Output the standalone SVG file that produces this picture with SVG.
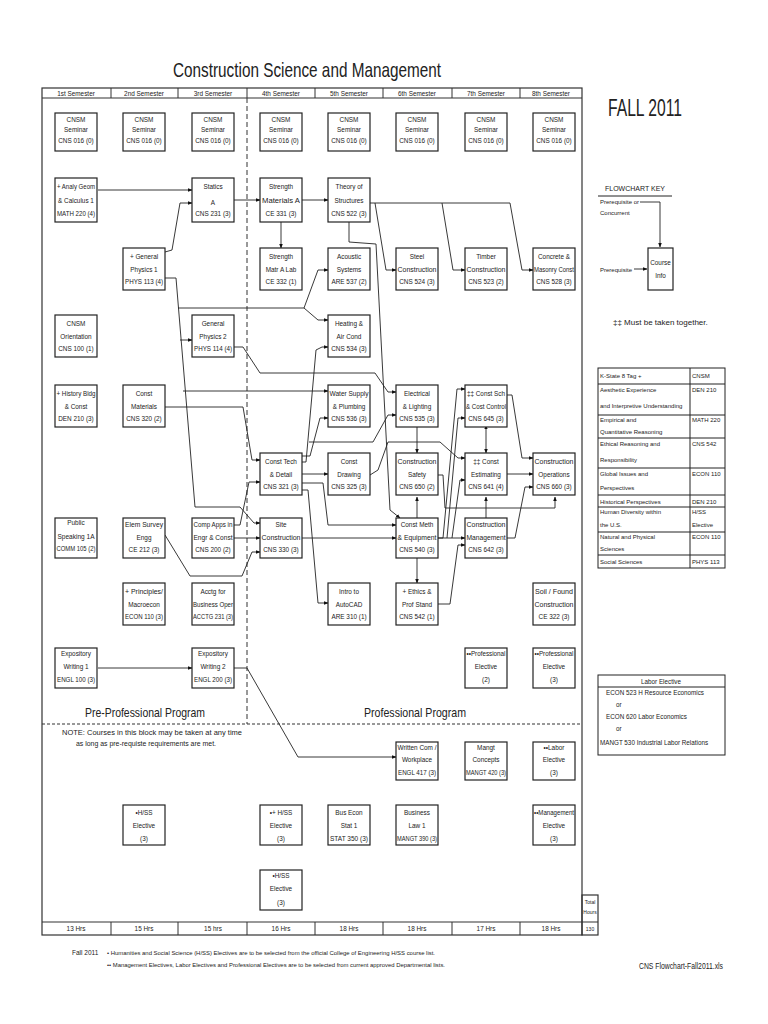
<svg xmlns="http://www.w3.org/2000/svg" width="768" height="1024" viewBox="0 0 768 1024">
<defs>
<marker id="ah" viewBox="0 0 10 10" refX="9" refY="5" markerWidth="5" markerHeight="5" orient="auto"><path d="M0,1 L10,5 L0,9 z" fill="#111"/></marker>
<marker id="as" viewBox="0 0 10 10" refX="1" refY="5" markerWidth="5" markerHeight="5" orient="auto-start-reverse"><path d="M0,1 L10,5 L0,9 z" fill="#111"/></marker>
</defs>
<style>
text{font-family:"Liberation Sans",Arial,sans-serif;fill:#222}
.b{fill:#fff;stroke:#222;stroke-width:1.2}
.t{font-size:6.4px;text-anchor:middle}
.w{font-size:6.4px;text-anchor:middle}
.h{font-size:6.4px;text-anchor:middle}
.s{font-size:6px}
.c{fill:none;stroke:#222;stroke-width:0.9;marker-end:url(#ah)}
.l{fill:none;stroke:#222;stroke-width:0.9}
.f{fill:none;stroke:#333;stroke-width:1.2}
</style>
<rect width="768" height="1024" fill="#fff"/>
<text x="307" y="77" font-size="21" text-anchor="middle" textLength="268" lengthAdjust="spacingAndGlyphs">Construction Science and Management</text>
<text x="608" y="116" font-size="23" textLength="74" lengthAdjust="spacingAndGlyphs">FALL 2011</text>

<!-- frame -->
<rect class="f" x="42" y="88" width="540" height="847"/>
<line class="f" x1="42" y1="98" x2="582" y2="98"/>
<line class="f" x1="42" y1="922" x2="598" y2="922"/>
<rect class="f" x="582" y="895" width="16" height="40"/>
<g stroke="#333" stroke-width="1">
<line x1="111" y1="88" x2="111" y2="98"/><line x1="178" y1="88" x2="178" y2="98"/><line x1="247" y1="88" x2="247" y2="98"/><line x1="315" y1="88" x2="315" y2="98"/><line x1="383" y1="88" x2="383" y2="98"/><line x1="452" y1="88" x2="452" y2="98"/><line x1="520" y1="88" x2="520" y2="98"/>
<line x1="111" y1="922" x2="111" y2="935"/><line x1="178" y1="922" x2="178" y2="935"/><line x1="247" y1="922" x2="247" y2="935"/><line x1="315" y1="922" x2="315" y2="935"/><line x1="383" y1="922" x2="383" y2="935"/><line x1="452" y1="922" x2="452" y2="935"/><line x1="520" y1="922" x2="520" y2="935"/>
</g>
<line x1="247" y1="98" x2="247" y2="724" stroke="#333" stroke-width="1" stroke-dasharray="5,3"/>
<line x1="42" y1="724" x2="582" y2="724" stroke="#333" stroke-width="1.2" stroke-dasharray="3,2"/>
<g class="h">
<text x="76" y="96">1st Semester</text><text x="144" y="96">2nd Semester</text><text x="213" y="96">3rd Semester</text><text x="281" y="96">4th Semester</text><text x="349" y="96">5th Semester</text><text x="417" y="96">6th Semester</text><text x="486" y="96">7th Semester</text><text x="551" y="96">8th Semester</text>
<text x="76" y="931">13 Hrs</text><text x="144" y="931">15 Hrs</text><text x="213" y="931">15 hrs</text><text x="281" y="931">16 Hrs</text><text x="349" y="931">18 Hrs</text><text x="417" y="931">18 Hrs</text><text x="486" y="931">17 Hrs</text><text x="551" y="931">18 Hrs</text>
<text x="590" y="904" font-size="5">Total</text><text x="590" y="914" font-size="5">Hours</text><text x="590" y="931" font-size="5">130</text>
</g>
<text x="145" y="717" font-size="13" text-anchor="middle" textLength="120" lengthAdjust="spacingAndGlyphs">Pre-Professional Program</text>
<text x="415" y="717" font-size="13" text-anchor="middle" textLength="102" lengthAdjust="spacingAndGlyphs">Professional Program</text>
<text x="62" y="735" font-size="7" textLength="180" lengthAdjust="spacingAndGlyphs">NOTE:  Courses in this block may be taken at any time</text>
<text x="76" y="746" font-size="7" textLength="140" lengthAdjust="spacingAndGlyphs">as long as pre-requiste requirements are met.</text>

<!-- connectors -->
<g id="connectors">
<path class="c" d="M98,190 H192"/>
<path class="c" d="M165,252 L172,250 L180,203 H192"/>
<path class="c" d="M233,200 H260"/>
<path class="c" d="M281,220 V248"/>
<path class="c" d="M302,200 H328"/>
<path class="c" d="M370,203 H510 L522,270 H533"/>
<path class="c" d="M375,203 L386,270 H396"/>
<path class="c" d="M442,203 L453,270 H465"/>
<path class="c" d="M349,220 V242 L376,244 L390,510 L400,518"/>
<path class="l" d="M165,278 H176 L195,507"/>
<path class="c" d="M178,308 H304 L318,270 H328"/>
<path class="c" d="M304,308 L318,320 H328"/>
<path class="c" d="M180,340 H192"/>
<path class="c" d="M183,391 H328"/>
<path class="c" d="M195,507 H240 L254,523 H260"/>
<path class="c" d="M233,347 H243 L260,373 H375 L388,392 H396"/>
<path class="c" d="M302,462 H306 L316,350 L322,347 H328"/>
<path class="c" d="M309,442 H373 L388,415 H396"/>
<path class="c" d="M302,456 H310 L320,418 H328"/>
<path class="c" d="M165,407 H243 L252,460 H260"/>
<path class="c" d="M233,525 H240 L249,482 H260"/>
<path class="c" d="M233,538 H260"/>
<path class="c" d="M165,535 L190,576 H242 L252,552 H260"/>
<path class="c" d="M302,474 H328"/>
<path class="c" d="M302,483 H323 L328,525 H396"/>
<path class="c" d="M302,538 H396"/>
<path class="c" d="M302,490 H308 L318,603 H328"/>
<path class="c" d="M417,427 V453"/>
<path class="c" d="M370,475 L378,470 L388,442 H440 L458,458 H465"/>
<path class="c" d="M438,538 H443 L457,389 H465"/>
<path class="c" d="M447,538 L458,418 H465"/>
<path class="c" d="M452,538 L460,480 H465"/>
<path class="c" d="M438,538 H465"/>
<path class="c" style="marker-start:url(#as)" d="M486,429 V453"/>
<path class="c" d="M486,518 V497"/>
<path class="c" d="M417,518 V497"/>
<path class="c" d="M417,558 V583"/>
<path class="c" d="M438,604 H450 L458,545 H465"/>
<path class="c" d="M438,475 H443 L445,508 H555 V497"/>
<path class="c" d="M506,395 H512 L522,458 H533"/>
<path class="c" d="M506,474 H533"/>
<path class="c" d="M506,538 H515 L525,487 H533"/>
<path class="c" d="M98,668 H192"/>
<path class="c" d="M233,668 H247 L298,757 H396"/>
</g>

<!-- nodes -->
<g id="n-sem1"><rect class="b" x="55" y="113" width="42" height="38"/><text class="t" x="76" y="122">CNSM</text><text class="t" x="76" y="132">Seminar</text><text class="t" x="76" y="143">CNS 016 (0)</text></g>
<g id="n-sem2"><rect class="b" x="123" y="113" width="42" height="38"/><text class="t" x="144" y="122">CNSM</text><text class="t" x="144" y="132">Seminar</text><text class="t" x="144" y="143">CNS 016 (0)</text></g>
<g id="n-sem3"><rect class="b" x="192" y="113" width="42" height="38"/><text class="t" x="213" y="122">CNSM</text><text class="t" x="213" y="132">Seminar</text><text class="t" x="213" y="143">CNS 016 (0)</text></g>
<g id="n-sem4"><rect class="b" x="260" y="113" width="42" height="38"/><text class="t" x="281" y="122">CNSM</text><text class="t" x="281" y="132">Seminar</text><text class="t" x="281" y="143">CNS 016 (0)</text></g>
<g id="n-sem5"><rect class="b" x="328" y="113" width="42" height="38"/><text class="t" x="349" y="122">CNSM</text><text class="t" x="349" y="132">Seminar</text><text class="t" x="349" y="143">CNS 016 (0)</text></g>
<g id="n-sem6"><rect class="b" x="396" y="113" width="42" height="38"/><text class="t" x="417" y="122">CNSM</text><text class="t" x="417" y="132">Seminar</text><text class="t" x="417" y="143">CNS 016 (0)</text></g>
<g id="n-sem7"><rect class="b" x="465" y="113" width="42" height="38"/><text class="t" x="486" y="122">CNSM</text><text class="t" x="486" y="132">Seminar</text><text class="t" x="486" y="143">CNS 016 (0)</text></g>
<g id="n-sem8"><rect class="b" x="533" y="113" width="42" height="38"/><text class="t" x="554" y="122">CNSM</text><text class="t" x="554" y="132">Seminar</text><text class="t" x="554" y="143">CNS 016 (0)</text></g>

<g id="n-math220"><rect class="b" x="55" y="178" width="42" height="44"/><text class="t" x="76" y="189" textLength="38" lengthAdjust="spacingAndGlyphs">+ Analy Geom</text><text class="t" x="76" y="203">&amp; Calculus 1</text><text class="t" x="76" y="216" textLength="38" lengthAdjust="spacingAndGlyphs">MATH 220 (4)</text></g>
<g id="n-cns231"><rect class="b" x="192" y="178" width="42" height="44"/><text class="t" x="213" y="189">Statics</text><text class="t" x="213" y="205">A</text><text class="t" x="213" y="216">CNS 231 (3)</text></g>
<g id="n-ce331"><rect class="b" x="260" y="178" width="42" height="44"/><text class="t" x="281" y="189">Strength</text><text class="t" x="281" y="203" textLength="38" lengthAdjust="spacingAndGlyphs">Materials A</text><text class="t" x="281" y="216">CE 331 (3)</text></g>
<g id="n-cns522"><rect class="b" x="328" y="178" width="42" height="44"/><text class="t" x="349" y="189">Theory of</text><text class="t" x="349" y="203">Structures</text><text class="t" x="349" y="216">CNS 522 (3)</text></g>

<g id="n-phys113"><rect class="b" x="123" y="248" width="42" height="42"/><text class="t" x="144" y="259">+ General</text><text class="t" x="144" y="272">Physics 1</text><text class="t" x="144" y="284" textLength="38" lengthAdjust="spacingAndGlyphs">PHYS 113 (4)</text></g>
<g id="n-ce332"><rect class="b" x="260" y="248" width="42" height="42"/><text class="t" x="281" y="259">Strength</text><text class="t" x="281" y="272">Matr A Lab</text><text class="t" x="281" y="284">CE 332 (1)</text></g>
<g id="n-are537"><rect class="b" x="328" y="248" width="42" height="42"/><text class="t" x="349" y="259">Acoustic</text><text class="t" x="349" y="272">Systems</text><text class="t" x="349" y="284">ARE 537 (2)</text></g>
<g id="n-cns524"><rect class="b" x="396" y="248" width="42" height="42"/><text class="t" x="417" y="259">Steel</text><text class="t" x="417" y="272" textLength="39" lengthAdjust="spacingAndGlyphs">Construction</text><text class="t" x="417" y="284">CNS 524 (3)</text></g>
<g id="n-cns523"><rect class="b" x="465" y="248" width="42" height="42"/><text class="t" x="486" y="259">Timber</text><text class="t" x="486" y="272" textLength="39" lengthAdjust="spacingAndGlyphs">Construction</text><text class="t" x="486" y="284">CNS 523 (2)</text></g>
<g id="n-cns528"><rect class="b" x="533" y="248" width="42" height="42"/><text class="t" x="554" y="259">Concrete &amp;</text><text class="t" x="554" y="272" textLength="40" lengthAdjust="spacingAndGlyphs">Masonry Const</text><text class="t" x="554" y="284">CNS 528 (3)</text></g>

<g id="n-cns100"><rect class="b" x="55" y="315" width="42" height="42"/><text class="t" x="76" y="326">CNSM</text><text class="t" x="76" y="339">Orientation</text><text class="t" x="76" y="351">CNS 100 (1)</text></g>
<g id="n-phys114"><rect class="b" x="192" y="315" width="42" height="42"/><text class="t" x="213" y="326">General</text><text class="t" x="213" y="339">Physics 2</text><text class="t" x="213" y="351" textLength="38" lengthAdjust="spacingAndGlyphs">PHYS 114 (4)</text></g>
<g id="n-cns534"><rect class="b" x="328" y="315" width="42" height="42"/><text class="t" x="349" y="326">Heating &amp;</text><text class="t" x="349" y="339">Air Cond</text><text class="t" x="349" y="351">CNS 534 (3)</text></g>

<g id="n-den210"><rect class="b" x="55" y="385" width="42" height="42"/><text class="t" x="76" y="396" textLength="39" lengthAdjust="spacingAndGlyphs">+ History Bldg</text><text class="t" x="76" y="409">&amp; Const</text><text class="t" x="76" y="421">DEN 210 (3)</text></g>
<g id="n-cns320"><rect class="b" x="123" y="385" width="42" height="42"/><text class="t" x="144" y="396">Const</text><text class="t" x="144" y="409">Materials</text><text class="t" x="144" y="421">CNS 320 (2)</text></g>
<g id="n-cns536"><rect class="b" x="328" y="385" width="42" height="42"/><text class="t" x="349" y="396" textLength="39" lengthAdjust="spacingAndGlyphs">Water Supply</text><text class="t" x="349" y="409">&amp; Plumbing</text><text class="t" x="349" y="421">CNS 536 (3)</text></g>
<g id="n-cns535"><rect class="b" x="396" y="385" width="42" height="42"/><text class="t" x="417" y="396">Electrical</text><text class="t" x="417" y="409">&amp; Lighting</text><text class="t" x="417" y="421">CNS 535 (3)</text></g>
<g id="n-cns645"><rect class="b" x="465" y="385" width="42" height="42"/><text class="t" x="486" y="396" textLength="38" lengthAdjust="spacingAndGlyphs">‡‡ Const Sch</text><text class="t" x="486" y="409" textLength="40" lengthAdjust="spacingAndGlyphs">&amp; Cost Control</text><text class="t" x="486" y="421">CNS 645 (3)</text></g>

<g id="n-cns321"><rect class="b" x="260" y="453" width="42" height="42"/><text class="t" x="281" y="464">Const Tech</text><text class="t" x="281" y="477">&amp; Detail</text><text class="t" x="281" y="489">CNS 321 (3)</text></g>
<g id="n-cns325"><rect class="b" x="328" y="453" width="42" height="42"/><text class="t" x="349" y="464">Const</text><text class="t" x="349" y="477">Drawing</text><text class="t" x="349" y="489">CNS 325 (3)</text></g>
<g id="n-cns650"><rect class="b" x="396" y="453" width="42" height="42"/><text class="t" x="417" y="464" textLength="39" lengthAdjust="spacingAndGlyphs">Construction</text><text class="t" x="417" y="477">Safety</text><text class="t" x="417" y="489">CNS 650 (2)</text></g>
<g id="n-cns641"><rect class="b" x="465" y="453" width="42" height="42"/><text class="t" x="486" y="464">‡‡ Const</text><text class="t" x="486" y="477">Estimating</text><text class="t" x="486" y="489">CNS 641 (4)</text></g>
<g id="n-cns660"><rect class="b" x="533" y="453" width="42" height="42"/><text class="t" x="554" y="464" textLength="39" lengthAdjust="spacingAndGlyphs">Construction</text><text class="t" x="554" y="477">Operations</text><text class="t" x="554" y="489">CNS 660 (3)</text></g>

<g id="n-comm105"><rect class="b" x="55" y="518" width="42" height="40"/><text class="t" x="76" y="525">Public</text><text class="t" x="76" y="539" textLength="37" lengthAdjust="spacingAndGlyphs">Speaking 1A</text><text class="t" x="76" y="551" textLength="39" lengthAdjust="spacingAndGlyphs">COMM 105 (2)</text></g>
<g id="n-ce212"><rect class="b" x="123" y="518" width="42" height="40"/><text class="t" x="144" y="527" textLength="38" lengthAdjust="spacingAndGlyphs">Elem Survey</text><text class="t" x="144" y="540">Engg</text><text class="t" x="144" y="552">CE 212 (3)</text></g>
<g id="n-cns200"><rect class="b" x="192" y="518" width="42" height="40"/><text class="t" x="213" y="527" textLength="39" lengthAdjust="spacingAndGlyphs">Comp Apps in</text><text class="t" x="213" y="540" textLength="39" lengthAdjust="spacingAndGlyphs">Engr &amp; Const</text><text class="t" x="213" y="552">CNS 200 (2)</text></g>
<g id="n-cns330"><rect class="b" x="260" y="518" width="42" height="40"/><text class="t" x="281" y="527">Site</text><text class="t" x="281" y="540" textLength="39" lengthAdjust="spacingAndGlyphs">Construction</text><text class="t" x="281" y="552">CNS 330 (3)</text></g>
<g id="n-cns540"><rect class="b" x="396" y="518" width="42" height="40"/><text class="t" x="417" y="527">Const Meth</text><text class="t" x="417" y="540" textLength="39" lengthAdjust="spacingAndGlyphs">&amp; Equipment</text><text class="t" x="417" y="552">CNS 540 (3)</text></g>
<g id="n-cns642"><rect class="b" x="465" y="518" width="42" height="40"/><text class="t" x="486" y="527" textLength="39" lengthAdjust="spacingAndGlyphs">Construction</text><text class="t" x="486" y="540" textLength="39" lengthAdjust="spacingAndGlyphs">Management</text><text class="t" x="486" y="552">CNS 642 (3)</text></g>

<g id="n-econ110"><rect class="b" x="123" y="583" width="42" height="42"/><text class="t" x="144" y="594" textLength="38" lengthAdjust="spacingAndGlyphs">+ Principles/</text><text class="t" x="144" y="607">Macroecon</text><text class="t" x="144" y="619" textLength="38" lengthAdjust="spacingAndGlyphs">ECON 110 (3)</text></g>
<g id="n-acctg231"><rect class="b" x="192" y="583" width="42" height="42"/><text class="t" x="213" y="594">Acctg for</text><text class="t" x="213" y="607" textLength="40" lengthAdjust="spacingAndGlyphs">Business Oper</text><text class="t" x="213" y="619" textLength="40" lengthAdjust="spacingAndGlyphs">ACCTG 231 (3)</text></g>
<g id="n-are310"><rect class="b" x="328" y="583" width="42" height="42"/><text class="t" x="349" y="594">Intro to</text><text class="t" x="349" y="607">AutoCAD</text><text class="t" x="349" y="619">ARE 310 (1)</text></g>
<g id="n-cns542"><rect class="b" x="396" y="583" width="42" height="42"/><text class="t" x="417" y="594">+ Ethics &amp;</text><text class="t" x="417" y="607">Prof Stand</text><text class="t" x="417" y="619">CNS 542 (1)</text></g>
<g id="n-ce322"><rect class="b" x="533" y="583" width="42" height="42"/><text class="t" x="554" y="594" textLength="38" lengthAdjust="spacingAndGlyphs">Soil / Found</text><text class="t" x="554" y="607" textLength="39" lengthAdjust="spacingAndGlyphs">Construction</text><text class="t" x="554" y="619">CE 322 (3)</text></g>

<g id="n-engl100"><rect class="b" x="55" y="648" width="42" height="40"/><text class="t" x="76" y="656">Expository</text><text class="t" x="76" y="669">Writing 1</text><text class="t" x="76" y="682" textLength="38" lengthAdjust="spacingAndGlyphs">ENGL 100 (3)</text></g>
<g id="n-engl200"><rect class="b" x="192" y="648" width="42" height="40"/><text class="t" x="213" y="656">Expository</text><text class="t" x="213" y="669">Writing 2</text><text class="t" x="213" y="682" textLength="38" lengthAdjust="spacingAndGlyphs">ENGL 200 (3)</text></g>
<g id="n-prof7"><rect class="b" x="465" y="648" width="42" height="40"/><text class="t" x="486" y="656" textLength="39" lengthAdjust="spacingAndGlyphs">••Professional</text><text class="t" x="486" y="669">Elective</text><text class="t" x="486" y="682">(2)</text></g>
<g id="n-prof8"><rect class="b" x="533" y="648" width="42" height="40"/><text class="t" x="554" y="656" textLength="39" lengthAdjust="spacingAndGlyphs">••Professional</text><text class="t" x="554" y="669">Elective</text><text class="t" x="554" y="682">(3)</text></g>

<g id="n-engl417"><rect class="b" x="396" y="742" width="42" height="38"/><text class="t" x="417" y="750" textLength="39" lengthAdjust="spacingAndGlyphs">Written Com /</text><text class="t" x="417" y="762">Workplace</text><text class="t" x="417" y="775" textLength="38" lengthAdjust="spacingAndGlyphs">ENGL 417 (3)</text></g>
<g id="n-mangt420"><rect class="b" x="465" y="742" width="42" height="38"/><text class="t" x="486" y="750">Mangt</text><text class="t" x="486" y="762">Concepts</text><text class="t" x="486" y="775" textLength="40" lengthAdjust="spacingAndGlyphs">MANGT 420 (3)</text></g>
<g id="n-labor"><rect class="b" x="533" y="742" width="42" height="38"/><text class="t" x="554" y="750">••Labor</text><text class="t" x="554" y="762">Elective</text><text class="t" x="554" y="775">(3)</text></g>

<g id="n-hss2"><rect class="b" x="123" y="805" width="42" height="40"/><text class="t" x="144" y="815">•H/SS</text><text class="t" x="144" y="828">Elective</text><text class="t" x="144" y="841">(3)</text></g>
<g id="n-hss4a"><rect class="b" x="260" y="805" width="42" height="40"/><text class="t" x="281" y="815">•+ H/SS</text><text class="t" x="281" y="828">Elective</text><text class="t" x="281" y="841">(3)</text></g>
<g id="n-stat350"><rect class="b" x="328" y="805" width="42" height="40"/><text class="t" x="349" y="815">Bus Econ</text><text class="t" x="349" y="828">Stat 1</text><text class="t" x="349" y="841" textLength="38" lengthAdjust="spacingAndGlyphs">STAT 350 (3)</text></g>
<g id="n-mangt390"><rect class="b" x="396" y="805" width="42" height="40"/><text class="t" x="417" y="815">Business</text><text class="t" x="417" y="828">Law 1</text><text class="t" x="417" y="841" textLength="40" lengthAdjust="spacingAndGlyphs">MANGT 390 (3)</text></g>
<g id="n-mgmt"><rect class="b" x="533" y="805" width="42" height="40"/><text class="t" x="554" y="815" textLength="40" lengthAdjust="spacingAndGlyphs">••Management</text><text class="t" x="554" y="828">Elective</text><text class="t" x="554" y="841">(3)</text></g>
<g id="n-hss4b"><rect class="b" x="260" y="870" width="42" height="40"/><text class="t" x="281" y="878">•H/SS</text><text class="t" x="281" y="891">Elective</text><text class="t" x="281" y="905">(3)</text></g>

<!-- key -->
<g id="key">
<text x="635" y="191" font-size="7" text-anchor="middle">FLOWCHART KEY</text>
<line x1="598" y1="196" x2="672" y2="196" stroke="#222" stroke-width="1"/>
<text x="600" y="204" class="s">Prerequisite or</text>
<text x="600" y="215" class="s">Concurrent</text>
<path class="c" d="M640,202 H660 V247"/>
<rect class="b" x="648" y="248" width="25" height="42"/>
<text class="t" x="660.5" y="265">Course</text><text class="t" x="660.5" y="278">Info</text>
<text x="600" y="272" class="s">Prerequisite</text>
<path class="c" d="M634,269 H647"/>
<text x="613" y="325" font-size="8">‡‡ Must be taken together.</text>
</g>

<g id="table" font-size="6">
<rect x="598" y="368" width="127" height="200" fill="none" stroke="#222" stroke-width="1"/>
<line x1="690" y1="368" x2="690" y2="568" stroke="#222" stroke-width="1"/>
<g stroke="#222" stroke-width="1"><line x1="598" y1="384" x2="725" y2="384"/><line x1="598" y1="415" x2="725" y2="415"/><line x1="598" y1="438" x2="725" y2="438"/><line x1="598" y1="468" x2="725" y2="468"/><line x1="598" y1="495" x2="725" y2="495"/><line x1="598" y1="507" x2="725" y2="507"/><line x1="598" y1="532" x2="725" y2="532"/><line x1="598" y1="555" x2="725" y2="555"/></g>
<text x="600" y="378">K-State 8 Tag +</text><text x="692" y="378">CNSM</text>
<text x="600" y="392">Aesthetic Experience</text><text x="600" y="408">and Interpretive Understanding</text><text x="692" y="392">DEN 210</text>
<text x="600" y="422">Empirical and</text><text x="600" y="434">Quantitative Reasoning</text><text x="692" y="422">MATH 220</text>
<text x="600" y="446">Ethical Reasoning and</text><text x="600" y="462">Responsibility</text><text x="692" y="446">CNS 542</text>
<text x="600" y="476">Global Issues and</text><text x="600" y="490">Perspectives</text><text x="692" y="476">ECON 110</text>
<text x="600" y="504">Historical Perspectives</text><text x="692" y="504">DEN 210</text>
<text x="600" y="514">Human Diversity within</text><text x="600" y="527">the U.S.</text><text x="692" y="514">H/SS</text><text x="692" y="527">Elective</text>
<text x="600" y="539">Natural and Physical</text><text x="600" y="551">Sciences</text><text x="692" y="539">ECON 110</text>
<text x="600" y="564">Social Sciences</text><text x="692" y="564">PHYS 113</text>
</g>

<g id="labor-box" font-size="6.3">
<rect x="598" y="675" width="127" height="80" fill="none" stroke="#222" stroke-width="1"/>
<line x1="598" y1="687" x2="725" y2="687" stroke="#222" stroke-width="1"/>
<text x="661" y="684" text-anchor="middle">Labor Elective</text>
<text x="606" y="695">ECON 523  H Resource Economics</text>
<text x="616" y="707">or</text>
<text x="606" y="719">ECON 620  Labor Economics</text>
<text x="616" y="731">or</text>
<text x="600" y="745">MANGT  530  Industrial Labor Relations</text>
</g>

<text x="72" y="955" font-size="6.5">Fall 2011</text>
<text x="107" y="955" font-size="6" textLength="328" lengthAdjust="spacingAndGlyphs">• Humanities and Social Science (H/SS) Electives are to be selected from the official College of Engineering H/SS course list.</text>
<text x="107" y="967" font-size="6" textLength="338" lengthAdjust="spacingAndGlyphs">•• Management Electives, Labor Electives and Professional Electives are to be selected from current approved Departmental lists.</text>
<text x="723" y="969" font-size="9" text-anchor="end" textLength="84" lengthAdjust="spacingAndGlyphs">CNS Flowchart-Fall2011.xls</text>
</svg>
